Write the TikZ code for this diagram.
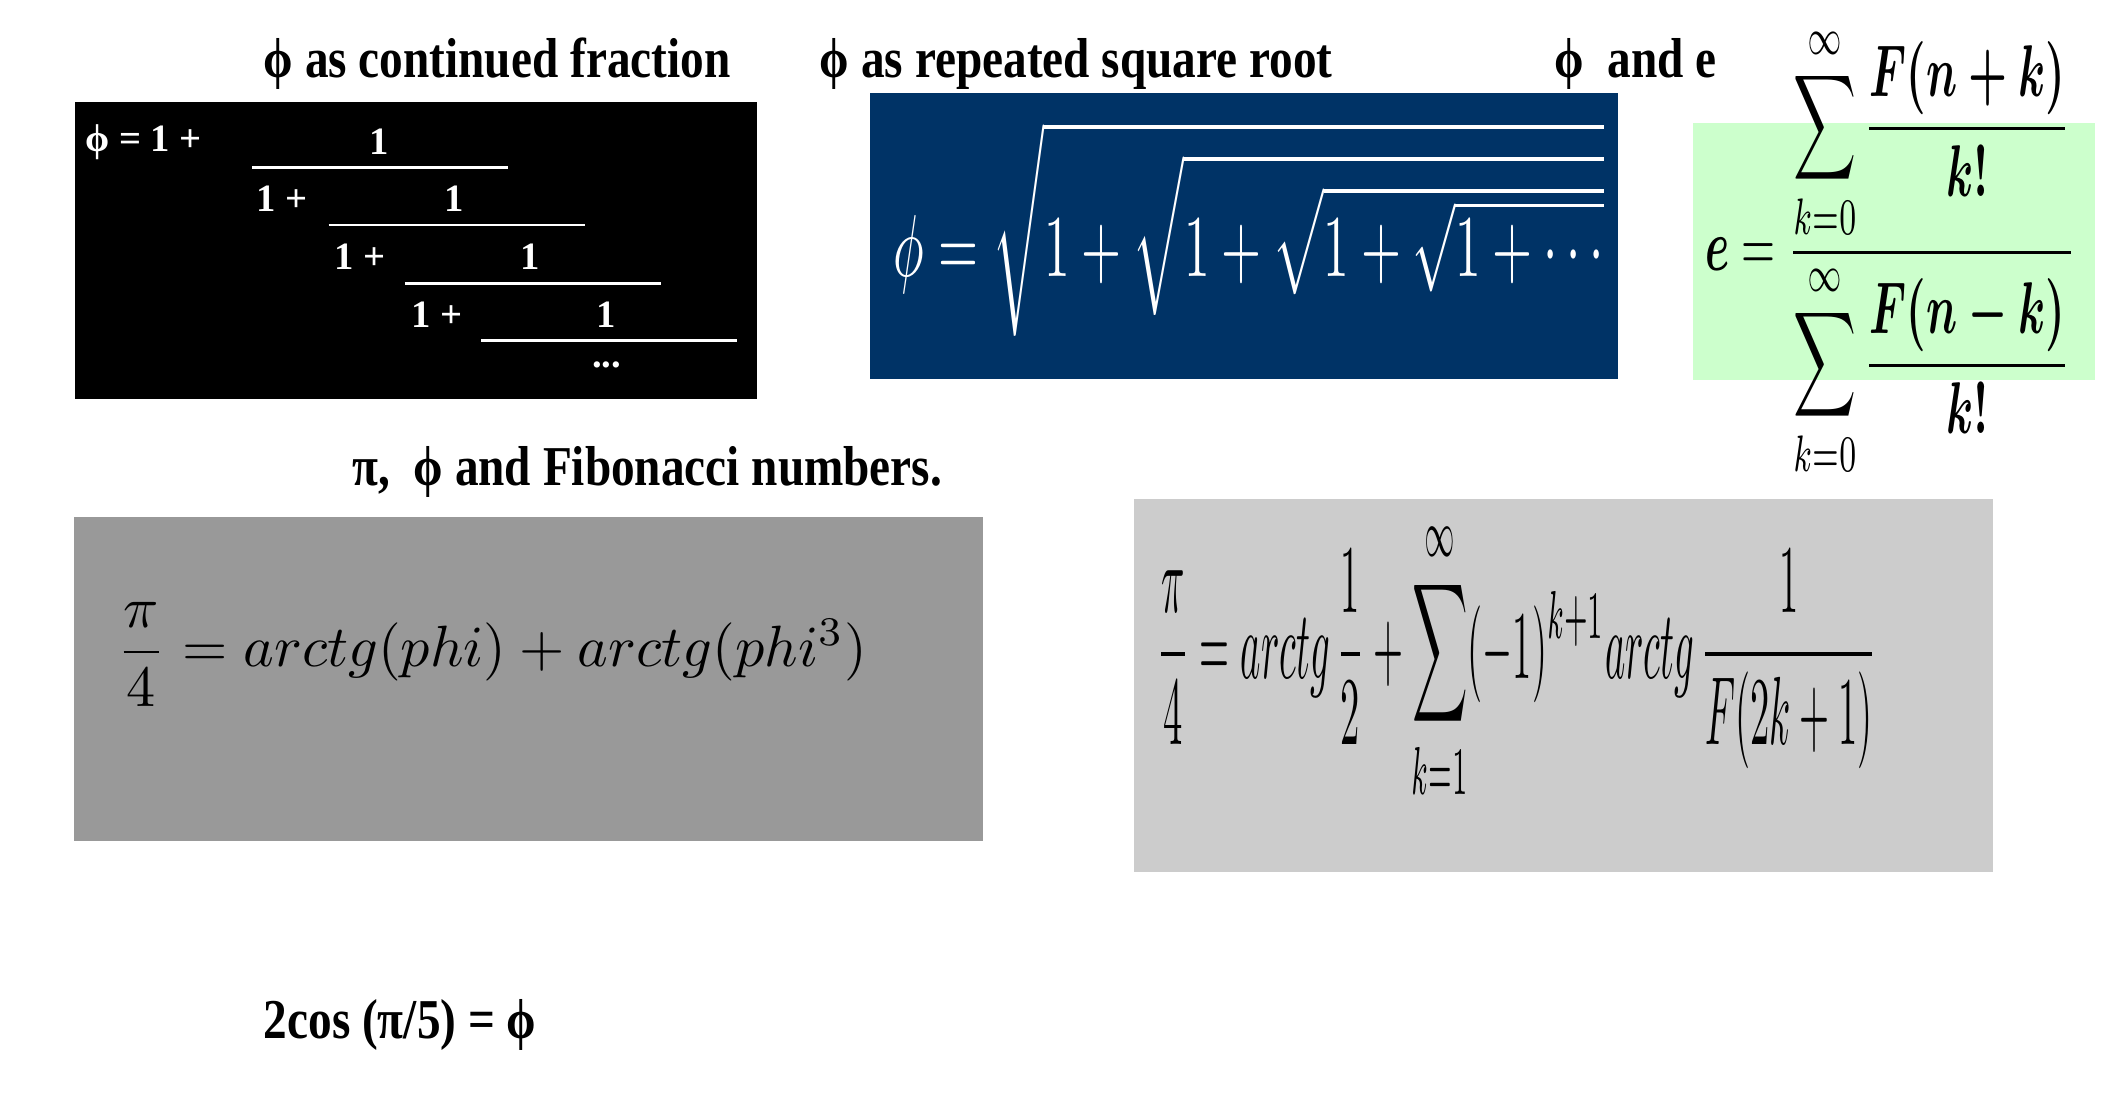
\documentclass[tikz,border=0pt]{standalone}
\usepackage{fontspec}
\setmainfont{Liberation Serif}
\usepackage{amsmath}
\definecolor{navy}{HTML}{003366}
\definecolor{mint}{HTML}{CCFFCC}
\definecolor{g1}{HTML}{999999}
\definecolor{g2}{HTML}{CCCCCC}
\newcommand{\cnd}[1]{\scalebox{0.84}[1]{#1}}
\begin{document}
\begin{tikzpicture}[x=0.013632cm,y=-0.013632cm,
  ttl/.style={anchor=west,inner sep=0pt,font=\bfseries\fontsize{16}{16}\selectfont},
  cf/.style={white,inner sep=0pt,font=\bfseries\fontsize{11}{11}\selectfont},
  bar/.style={white,line width=0.8pt}]
\useasboundingbox (0,0) rectangle (1553,802);
\node[ttl] (t1) at (193,47) {\cnd{ϕ as continued fraction}};
\node[ttl] (t2) at (601,47) {\cnd{ϕ as repeated square root}};
\node[ttl] (t3) at (1140,47) {\cnd{ϕ\ \ and e}};
\node[ttl] (t4) at (258,346) {\cnd{π,\ \ ϕ and Fibonacci numbers.}};
\node[ttl] (t5) at (193,752) {\cnd{2cos (π/5) = ϕ}};
% black box
\fill[black] (55,75) rectangle (555,293);
\node[cf,anchor=west] (c0) at (62,104) {ϕ = 1 +};
\node[cf] (n1) at (278,104) {1};
\draw[bar] (185,123) -- (373,123);
\node[cf,anchor=west] (c1) at (188,146) {1 +};
\node[cf] (n2) at (333,146) {1};
\draw[bar] (241,165) -- (429,165);
\node[cf,anchor=west] (c2) at (245,188) {1 +};
\node[cf] (n3) at (389,188) {1};
\draw[bar] (297,208) -- (485,208);
\node[cf,anchor=west] (c3) at (301,231) {1 +};
\node[cf] (n4) at (445,231) {1};
\draw[bar] (353,250) -- (541,250);
\node[cf] (d) at (445,268) {...};
% navy
\fill[navy] (638,68) rectangle (1187,278);
\node[white,inner sep=0pt] (sq) at (916,168) {\resizebox{7.1cm}{1.55cm}{$\phi=\sqrt{1+\sqrt{1+\sqrt{1+\sqrt{1+\cdots}}}}$}};
% green
\fill[mint] (1242,90) rectangle (1537,279);
\node[inner sep=0pt] (e) at (1387,185) {\resizebox{3.7cm}{2.45cm}{$\boldsymbol{e}=\dfrac{\displaystyle\sum_{k=0}^{\infty}\frac{\boldsymbol{F(n+k)}}{\boldsymbol{k!}}}{\displaystyle\sum_{k=0}^{\infty}\frac{\boldsymbol{F(n-k)}}{\boldsymbol{k!}}}$}};
% gray
\fill[g1] (54,379) rectangle (721,617);
\node[inner sep=0pt,anchor=west] (p1) at (85,480) {\resizebox{7.5cm}{!}{$\dfrac{\pi}{4}=arctg(phi)+arctg(phi^3)$}};
% light gray
\fill[g2] (832,366) rectangle (1462,640);
\node[inner sep=0pt,anchor=west] (p2) at (848,485) {\resizebox{7.2cm}{1.6cm}{$\dfrac{\pi}{4}=arctg\,\dfrac{1}{2}+\displaystyle\sum_{k=1}^{\infty}(-1)^{k+1}arctg\,\frac{1}{F(2k+1)}$}};
\end{tikzpicture}
\end{document}
